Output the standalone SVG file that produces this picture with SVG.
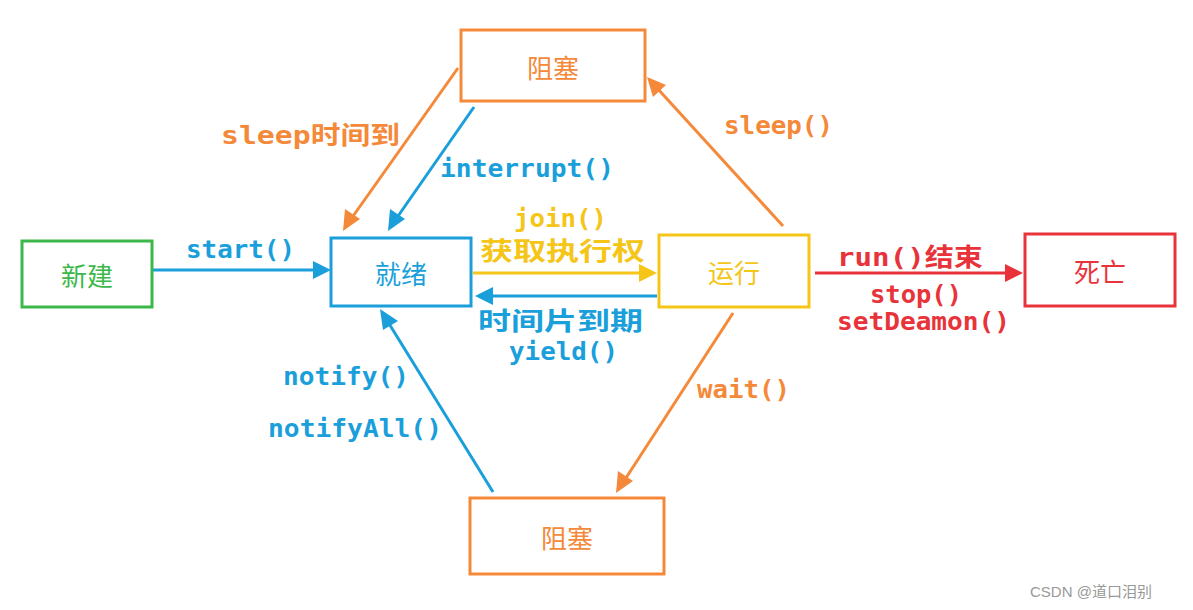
<svg xmlns="http://www.w3.org/2000/svg" width="1193" height="610" viewBox="0 0 1193 610">
<style>
.n{fill:#fff;stroke-width:3}
.t{font-family:"Noto Sans CJK SC",sans-serif;font-size:26px;text-anchor:middle;dominant-baseline:central}
.l{font-family:"DejaVu Sans Mono","Noto Sans CJK SC",monospace;font-size:25px;font-weight:bold}
</style>
<rect width="1193" height="610" fill="#fff"/>
<g id="connectors" fill="none" stroke-width="3">
<line x1="152" y1="270" x2="318" y2="270" stroke="#1a9fdb"/><path d="M331,270L313,261L313,279z" fill="#1a9fdb"/>
<line x1="473" y1="273" x2="644" y2="273" stroke="#f5c518"/><path d="M657,273L639,264L639,282z" fill="#f5c518"/>
<line x1="657" y1="296" x2="488" y2="296" stroke="#1a9fdb"/><path d="M475,296L493,287L493,305z" fill="#1a9fdb"/>
<line x1="815" y1="273" x2="1009" y2="273" stroke="#e8333a"/><path d="M1023,273L1005,264L1005,282z" fill="#e8333a"/>
<line x1="783" y1="226" x2="657" y2="88" stroke="#f5893a"/><path d="M647,77L653,97L666,85z" fill="#f5893a"/>
<line x1="458" y1="68" x2="351" y2="219" stroke="#f5893a"/><path d="M343,231L360,219L345,209z" fill="#f5893a"/>
<line x1="474" y1="107" x2="396" y2="219" stroke="#1a9fdb"/><path d="M388,231L405,219L390,209z" fill="#1a9fdb"/>
<line x1="733" y1="313" x2="624" y2="481" stroke="#f5893a"/><path d="M616,493L633,481L618,471z" fill="#f5893a"/>
<line x1="493" y1="492" x2="388" y2="322" stroke="#1a9fdb"/><path d="M380,309L383,330L398,321z" fill="#1a9fdb"/>
</g>
<g id="n_new"><rect class="n" x="22" y="241" width="130" height="66" stroke="#3cb84a"/><text class="t" x="87" y="274" fill="#3cb84a">新建</text></g>
<g id="n_ready"><rect class="n" x="331" y="238" width="140" height="68" stroke="#1a9fdb"/><text class="t" x="401" y="272" fill="#1a9fdb">就绪</text></g>
<g id="n_run"><rect class="n" x="659" y="235" width="150" height="72" stroke="#f5c518"/><text class="t" x="734" y="271" fill="#f5c518">运行</text></g>
<g id="n_dead"><rect class="n" x="1025" y="234" width="150" height="72" stroke="#e8333a"/><text class="t" x="1100" y="270" fill="#e8333a">死亡</text></g>
<g id="n_block1"><rect class="n" x="461" y="30" width="184" height="71" stroke="#f5893a"/><text class="t" x="553" y="66" fill="#f5893a">阻塞</text></g>
<g id="n_block2"><rect class="n" x="470" y="498" width="194" height="76" stroke="#f5893a"/><text class="t" x="567" y="536" fill="#f5893a">阻塞</text></g>
<g id="labels" lengthAdjust="spacingAndGlyphs">
<text class="l" x="186" y="258" fill="#1a9fdb" textLength="109" lengthAdjust="spacingAndGlyphs">start()</text>
<text class="l" x="514" y="227" fill="#f5c518" textLength="93" lengthAdjust="spacingAndGlyphs">join()</text>
<text class="l" x="480" y="260" fill="#f5c518" textLength="165" lengthAdjust="spacingAndGlyphs">获取执行权</text>
<text class="l" x="478" y="330" fill="#1a9fdb" textLength="165" lengthAdjust="spacingAndGlyphs">时间片到期</text>
<text class="l" x="509" y="360" fill="#1a9fdb" textLength="109" lengthAdjust="spacingAndGlyphs">yield()</text>
<text class="l" x="837" y="266" fill="#e8333a" textLength="146" lengthAdjust="spacingAndGlyphs">run()结束</text>
<text class="l" x="870" y="303" fill="#e8333a" textLength="92" lengthAdjust="spacingAndGlyphs">stop()</text>
<text class="l" x="837" y="330" fill="#e8333a" textLength="173" lengthAdjust="spacingAndGlyphs">setDeamon()</text>
<text class="l" x="724" y="134" fill="#f5893a" textLength="109" lengthAdjust="spacingAndGlyphs">sleep()</text>
<text class="l" x="221" y="144" fill="#f5893a" textLength="179" lengthAdjust="spacingAndGlyphs">sleep时间到</text>
<text class="l" x="440" y="177" fill="#1a9fdb" textLength="174" lengthAdjust="spacingAndGlyphs">interrupt()</text>
<text class="l" x="697" y="398" fill="#f5893a" textLength="93" lengthAdjust="spacingAndGlyphs">wait()</text>
<text class="l" x="283" y="385" fill="#1a9fdb" textLength="126" lengthAdjust="spacingAndGlyphs">notify()</text>
<text class="l" x="268" y="437" fill="#1a9fdb" textLength="174" lengthAdjust="spacingAndGlyphs">notifyAll()</text>
<text x="1030" y="597" font-family="'Liberation Sans','Noto Sans CJK SC',sans-serif" font-size="15" fill="#999">CSDN @道口泪别</text>
</g>
</svg>
